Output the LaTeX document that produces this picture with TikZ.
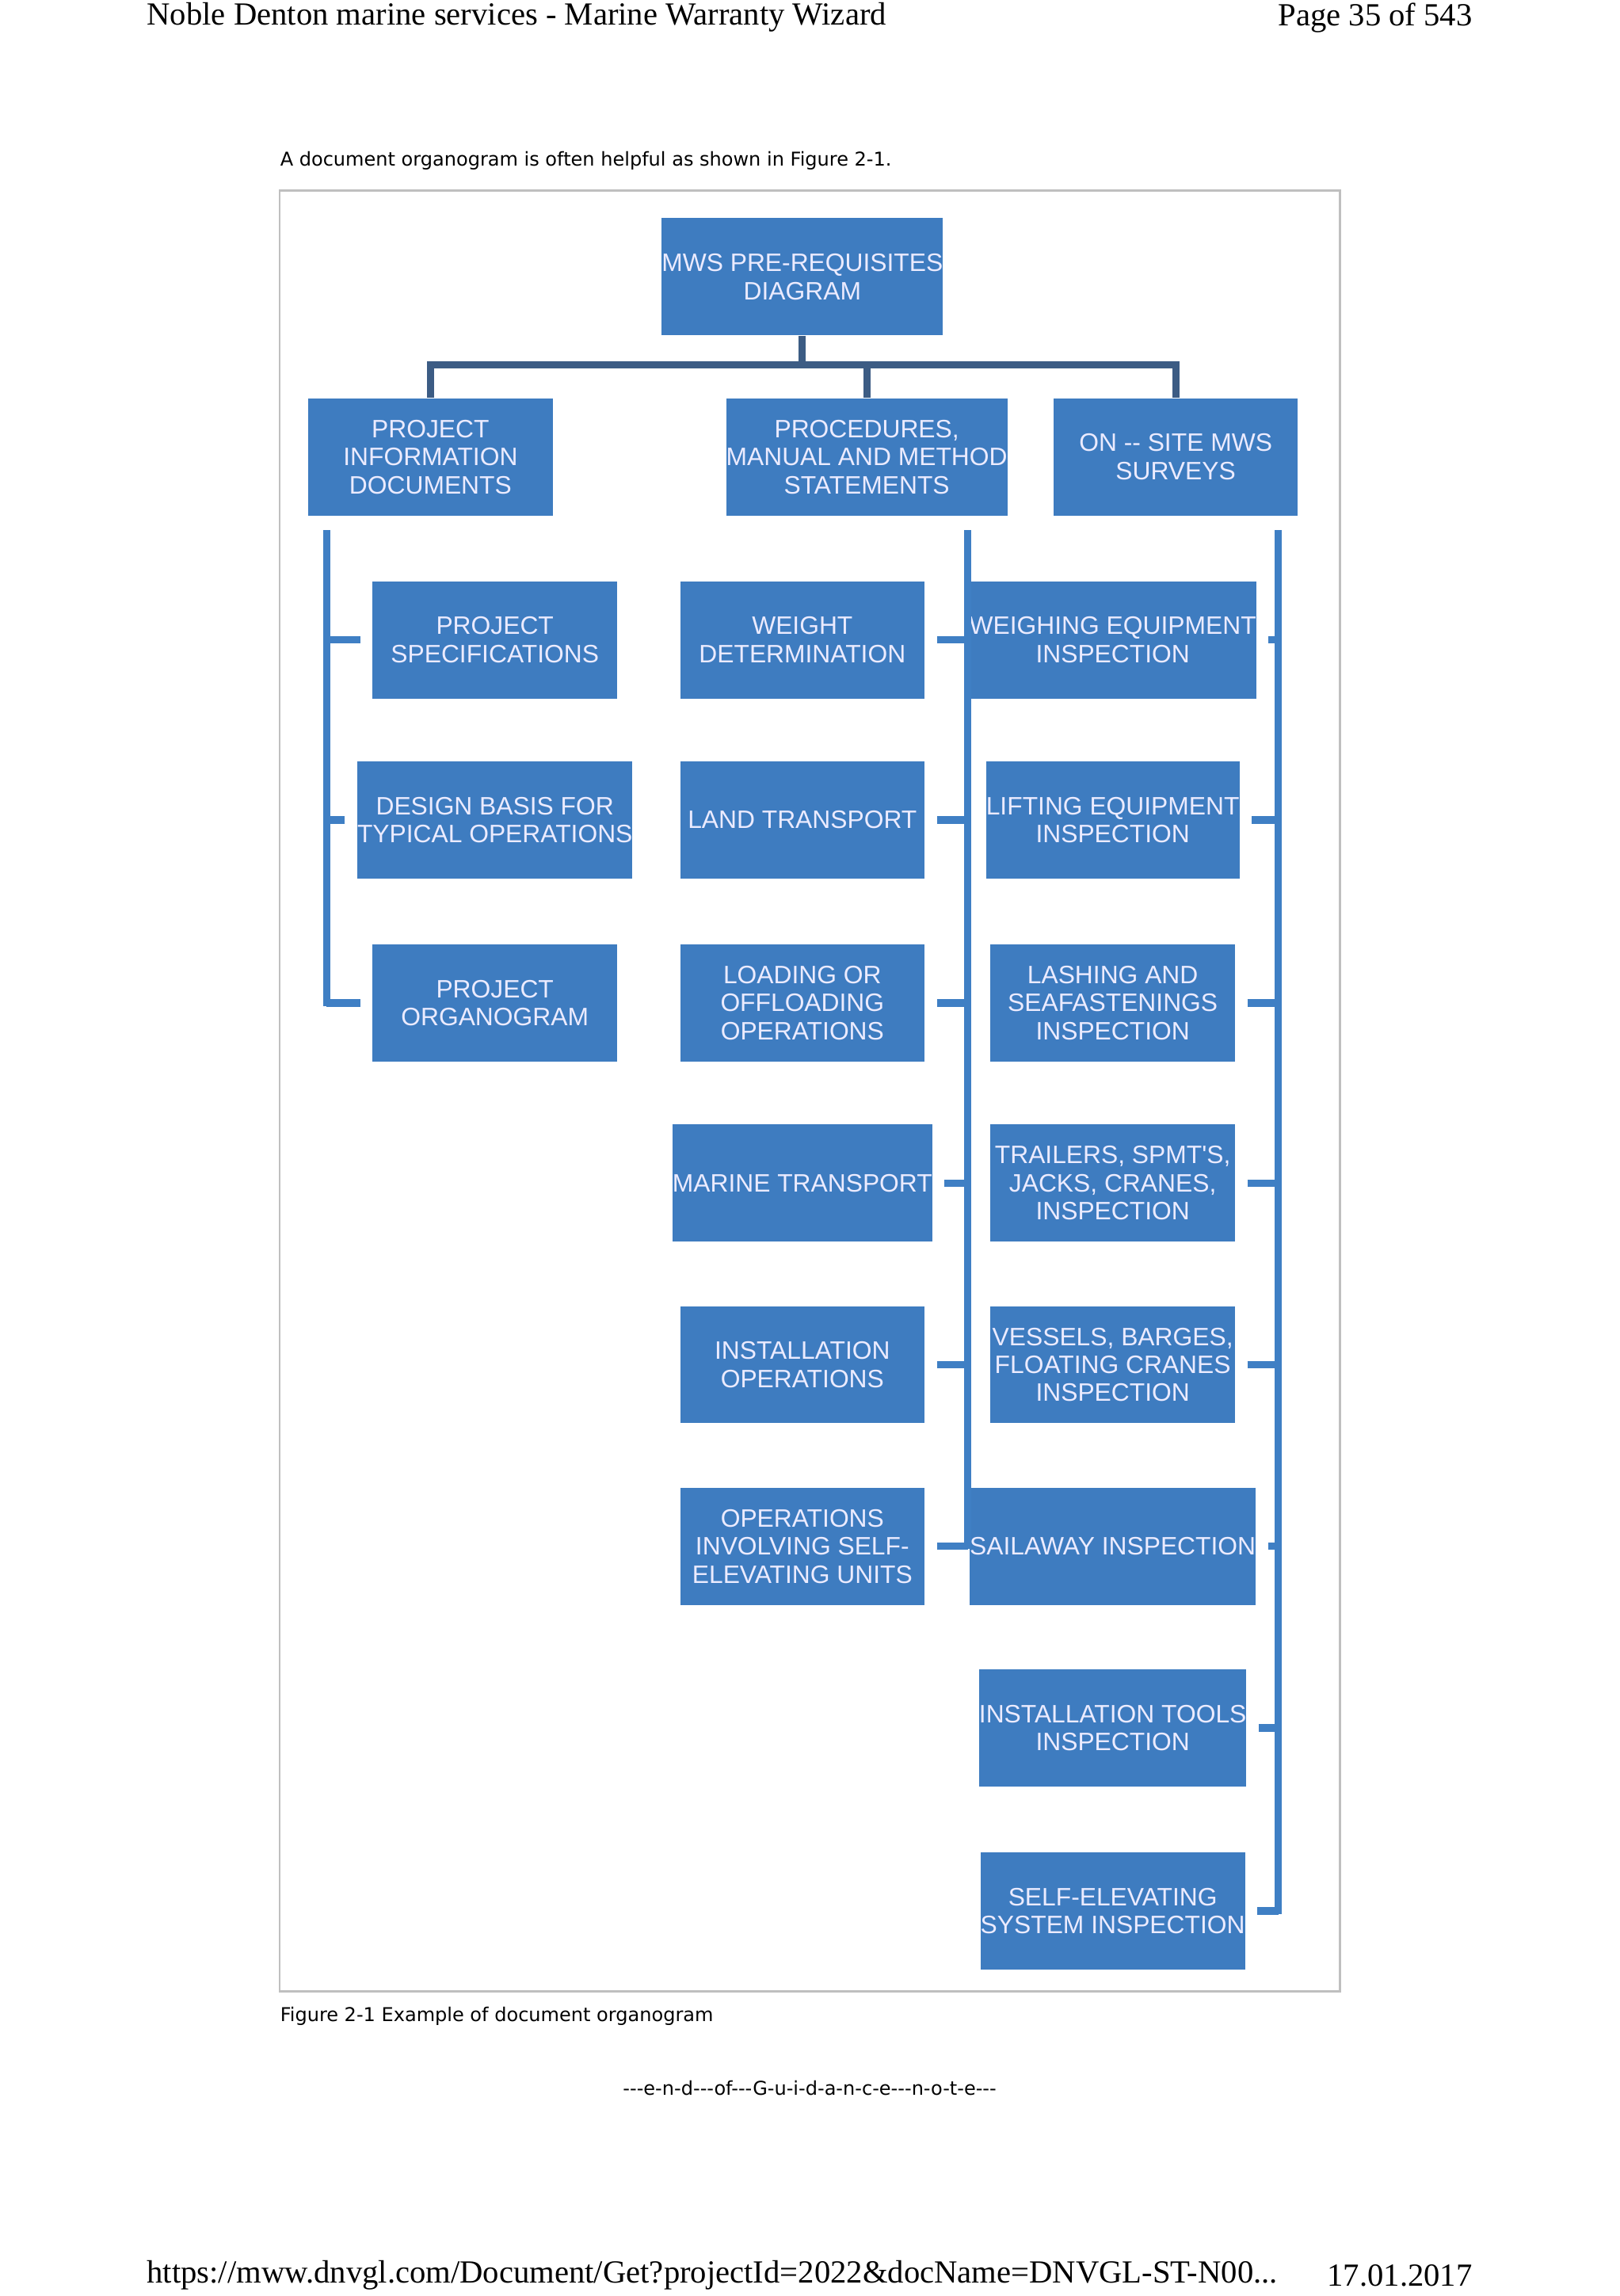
\documentclass[tikz,border=0pt]{standalone}
\usepackage{fontspec}
\setmainfont{Liberation Serif}
\newfontfamily\boxfont{Liberation Sans}
\newfontfamily\txtfont{DejaVu Sans}
\begin{document}
\begin{tikzpicture}[x=0.5pt,y=-0.5pt,
  bx/.style={fill=boxblue,draw=none,minimum width=83.5pt,minimum height=40pt,inner sep=0pt,align=center,text=white!92!blue,font=\boxfont\fontsize{8.6}{9.6}\selectfont},
  lk/.style={draw=lineblue,line width=2.5pt},
  tk/.style={draw=darkblue,line width=2.5pt},
  hd/.style={font=\fontsize{11}{13}\selectfont,inner sep=0pt},
  sm/.style={font=\txtfont\fontsize{6.5}{8}\selectfont,inner sep=0pt}]
\definecolor{boxblue}{HTML}{3E7CC0}
\definecolor{lineblue}{HTML}{3F7FC4}
\definecolor{darkblue}{HTML}{3C5C84}
\useasboundingbox (0,0) rectangle (1106,1568);
\node[hd,anchor=west] (h1) at (100,12) {Noble Denton marine services - Marine Warranty Wizard};
\node[hd,anchor=east] (h2) at (1006,12) {Page 35 of 543};
\node[hd,anchor=west] (f1) at (100,1554) {https://mww.dnvgl.com/Document/Get?projectId=2022\&docName=DNVGL-ST-N00...};
\node[hd,anchor=east] (f2) at (1006,1554) {17.01.2017};
\node[sm,anchor=west] (c1) at (191,110) {A document organogram is often helpful as shown in Figure 2-1.};
\node[sm,anchor=west] (c2) at (191,1377) {Figure 2-1 Example of document organogram};
\node[sm] (c3) at (553,1426) {---e-n-d---of---G-u-i-d-a-n-c-e---n-o-t-e---};
\draw[draw=black!25,line width=0.8pt] (191,130) rectangle (915,1360);
% boxes
\node[bx] (top) at (548,189) {MWS PRE-REQUISITES\\DIAGRAM};
\node[bx] (p1) at (294,312) {PROJECT\\INFORMATION\\DOCUMENTS};
\node[bx] (p2) at (592,312) {PROCEDURES,\\MANUAL AND METHOD\\STATEMENTS};
\node[bx] (p3) at (803,312) {ON -- SITE MWS\\SURVEYS};
\node[bx] (a1) at (338,437) {PROJECT\\SPECIFICATIONS};
\node[bx] (a2) at (338,560) {DESIGN BASIS FOR\\TYPICAL OPERATIONS};
\node[bx] (a3) at (338,685) {PROJECT\\ORGANOGRAM};
\node[bx] (b1) at (548,437) {WEIGHT\\DETERMINATION};
\node[bx] (b2) at (548,560) {LAND TRANSPORT};
\node[bx] (b3) at (548,685) {LOADING OR\\OFFLOADING\\OPERATIONS};
\node[bx] (b4) at (548,808) {MARINE TRANSPORT};
\node[bx] (b5) at (548,932) {INSTALLATION\\OPERATIONS};
\node[bx] (b6) at (548,1056) {OPERATIONS\\INVOLVING SELF-\\ELEVATING UNITS};
\node[bx] (r1) at (760,437) {WEIGHING EQUIPMENT\\INSPECTION};
\node[bx] (r2) at (760,560) {LIFTING EQUIPMENT\\INSPECTION};
\node[bx] (r3) at (760,685) {LASHING AND\\SEAFASTENINGS\\INSPECTION};
\node[bx] (r4) at (760,808) {TRAILERS, SPMT'S,\\JACKS, CRANES,\\INSPECTION};
\node[bx] (r5) at (760,932) {VESSELS, BARGES,\\FLOATING CRANES\\INSPECTION};
\node[bx] (r6) at (760,1056) {SAILAWAY INSPECTION};
\node[bx] (r7) at (760,1180) {INSTALLATION TOOLS\\INSPECTION};
\node[bx] (r8) at (760,1305) {SELF-ELEVATING\\SYSTEM INSPECTION};
% top tree
\coordinate (tb) at (548,249);
\draw[tk] (top.south) -- (tb);
\draw[tk] (p1.north) -- (294,249) -- (803,249) -- (p3.north);
\draw[tk] (p2.north) -- (592,249);
% left
\draw[lk] (223,362) -- (223,687);
\foreach \n in {a1,a2,a3} \draw[lk] (\n.west) ++(-8,0) -- (223,0 |- \n.west);
% mid
\draw[lk] (661,362) -- (661,1058);
\foreach \n in {b1,b2,b3,b4,b5,b6} \draw[lk] ([xshift=4pt]\n.east) -- (661,0 |- \n.east);
% right
\draw[lk] (873,362) -- (873,1307);
\foreach \n in {r1,r2,r3,r4,r5,r6,r7,r8} \draw[lk] ([xshift=4pt]\n.east) -- (873,0 |- \n.east);
\end{tikzpicture}
\end{document}
